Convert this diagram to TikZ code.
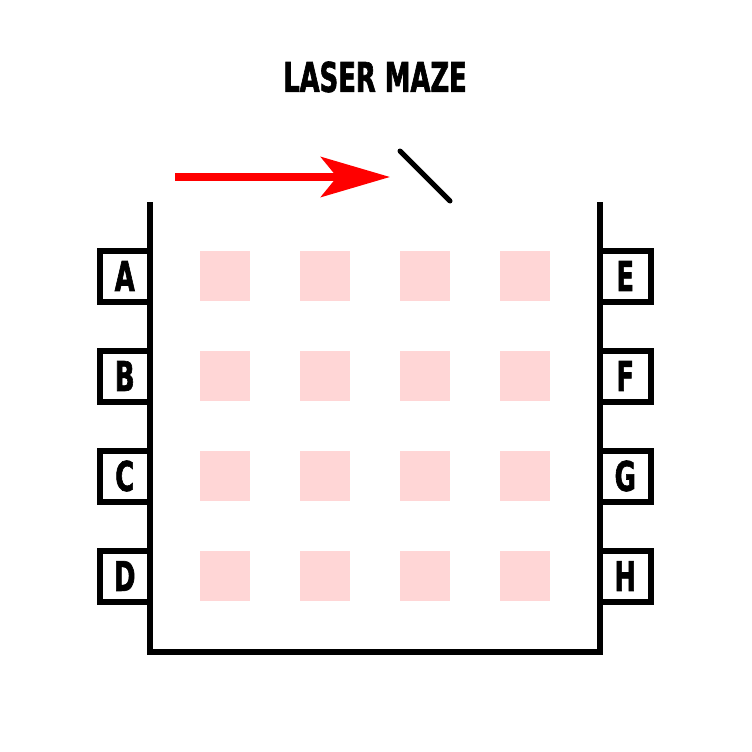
\documentclass[tikz,border=0pt]{standalone}
\usepackage{fontspec}
\usepackage{tikz}
\usetikzlibrary{arrows.meta, positioning}
\newfontfamily\mazefont[FakeStretch=0.7, FakeBold=1.5]{DejaVu Sans Condensed}
\definecolor{cellpink}{RGB}{255,214,214}
\definecolor{laserred}{RGB}{255,0,0}

\begin{document}
\begin{tikzpicture}[x=1pt, y=-1pt,
    port/.style={draw, line width=6pt, fill=white,
      minimum width=50.5pt, minimum height=51pt,
      inner sep=0pt, font=\mazefont\bfseries\fontsize{41}{41}\selectfont},
    cell/.style={fill=cellpink, minimum size=50pt, inner sep=0pt},
    wall/.style={line width=6pt}]
  \useasboundingbox[fill=white] (0,0) rectangle (752,752);

% TITLE

  \node[font=\mazefont\bfseries\fontsize{41}{41}\selectfont] (title) at (375,77) {LASER MAZE};

% CELLS

  \foreach \i in {0,...,3}
    \foreach \j in {0,...,3}
      \node[cell] (cell\i\j) at (225+100*\i, 276+100*\j) {};

% PORTS

  \foreach \name/\row in {A/0, B/1, C/2, D/3}
    \node[port] (port\name) at (124.75, 276+100*\row) {\name};
  \foreach \name/\row in {E/0, F/1, G/2, H/3}
    \node[port] (port\name) at (625.25, 276+100*\row) {\name};

% WALLS

  \draw[wall] (150,202) -- (150,652) -- (600,652) -- (600,202);

% LASER AND MIRROR

  \coordinate (source) at (175,177);
  \coordinate (target) at (390,177);
  \coordinate (mirrortop) at (400,151);
  \coordinate (mirrorbot) at (450,201);
  \draw[laserred, line width=8pt,
    -{Stealth[length=69pt, width=40pt, inset=16pt]}] (source) -- (target);
  \draw[line width=5pt, line cap=round] (mirrortop) -- (mirrorbot);

\end{tikzpicture}
\end{document}
